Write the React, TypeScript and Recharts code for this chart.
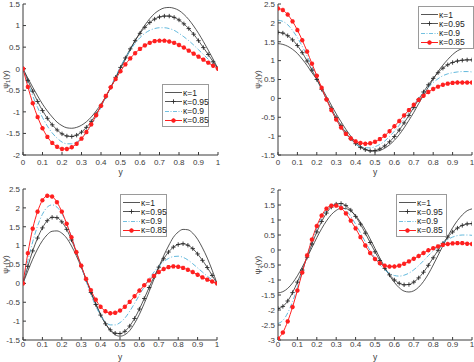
import { LineChart, Line, XAxis, YAxis, Legend } from 'recharts';

// grid points along y (0 .. 1, step 0.025)
const yPos = [
  0, 0.025, 0.05, 0.075, 0.1, 0.125, 0.15, 0.175, 0.2, 0.225, 0.25, 0.275, 0.3, 0.325, 0.35, 0.375, 0.4,
  0.425, 0.45, 0.475, 0.5, 0.525, 0.55, 0.575, 0.6, 0.625, 0.65, 0.675, 0.7, 0.725, 0.75, 0.775, 0.8,
  0.825, 0.85, 0.875, 0.9, 0.925, 0.95, 0.975, 1,
];
const xTicks = [0, 0.1, 0.2, 0.3, 0.4, 0.5, 0.6, 0.7, 0.8, 0.9, 1];
const kappaNames = ['κ=1', 'κ=0.95', 'κ=0.9', 'κ=0.85'];

// top left: psi_1(y)
const tlK100 = [0, -0.22, -0.43, -0.63, -0.82, -0.98, -1.12, -1.24, -1.32, -1.37, -1.38, -1.36, -1.31, -1.23, -1.12, -0.98, -0.82, -0.64, -0.44, -0.22, 0, 0.22, 0.44, 0.65, 0.84, 1.01, 1.16, 1.28, 1.36, 1.41, 1.42, 1.4, 1.35, 1.26, 1.14, 0.99, 0.82, 0.63, 0.43, 0.22, 0];
const tlK095 = [0, -0.27, -0.52, -0.76, -0.97, -1.15, -1.3, -1.42, -1.51, -1.56, -1.57, -1.54, -1.47, -1.36, -1.22, -1.05, -0.86, -0.65, -0.43, -0.2, 0.03, 0.25, 0.46, 0.65, 0.82, 0.96, 1.07, 1.15, 1.2, 1.22, 1.22, 1.19, 1.13, 1.04, 0.93, 0.8, 0.65, 0.49, 0.33, 0.16, 0];
const tlK090 = [0, -0.33, -0.63, -0.9, -1.13, -1.33, -1.49, -1.61, -1.7, -1.74, -1.74, -1.7, -1.61, -1.48, -1.32, -1.12, -0.9, -0.66, -0.42, -0.18, 0.05, 0.25, 0.43, 0.59, 0.72, 0.82, 0.89, 0.93, 0.95, 0.95, 0.93, 0.89, 0.82, 0.74, 0.65, 0.55, 0.44, 0.33, 0.22, 0.11, 0];
const tlK085 = [0, -0.42, -0.8, -1.12, -1.38, -1.58, -1.72, -1.81, -1.86, -1.86, -1.82, -1.74, -1.62, -1.47, -1.29, -1.08, -0.86, -0.63, -0.43, -0.24, -0.06, 0.1, 0.24, 0.36, 0.46, 0.54, 0.6, 0.64, 0.65, 0.65, 0.63, 0.6, 0.55, 0.49, 0.42, 0.35, 0.28, 0.21, 0.14, 0.07, 0];

// top right: psi_2(y)
const trK100 = [1.45, 1.43, 1.38, 1.3, 1.19, 1.04, 0.87, 0.68, 0.5, 0.28, 0.05, -0.18, -0.41, -0.62, -0.82, -1.0, -1.15, -1.26, -1.34, -1.39, -1.4, -1.38, -1.32, -1.23, -1.11, -0.96, -0.78, -0.58, -0.37, -0.14, 0.08, 0.3, 0.51, 0.71, 0.88, 1.03, 1.16, 1.26, 1.32, 1.36, 1.37];
const trK095 = [1.75, 1.73, 1.66, 1.55, 1.4, 1.21, 0.99, 0.75, 0.5, 0.24, -0.02, -0.27, -0.51, -0.72, -0.91, -1.07, -1.2, -1.3, -1.36, -1.39, -1.38, -1.34, -1.26, -1.15, -1.01, -0.84, -0.65, -0.45, -0.24, -0.03, 0.17, 0.36, 0.53, 0.68, 0.8, 0.89, 0.95, 0.99, 1.01, 1.02, 1.02];
const trK090 = [2.07, 2.04, 1.95, 1.8, 1.61, 1.38, 1.12, 0.84, 0.55, 0.26, -0.03, -0.3, -0.55, -0.77, -0.95, -1.1, -1.21, -1.28, -1.31, -1.31, -1.28, -1.22, -1.13, -1.01, -0.87, -0.71, -0.53, -0.35, -0.17, 0, 0.16, 0.3, 0.42, 0.52, 0.6, 0.65, 0.68, 0.7, 0.71, 0.71, 0.7];
const trK085 = [2.38, 2.34, 2.22, 2.04, 1.81, 1.54, 1.24, 0.92, 0.6, 0.28, -0.03, -0.31, -0.56, -0.77, -0.94, -1.06, -1.14, -1.18, -1.2, -1.19, -1.15, -1.08, -0.99, -0.87, -0.74, -0.6, -0.45, -0.31, -0.17, -0.04, 0.07, 0.17, 0.25, 0.31, 0.36, 0.39, 0.41, 0.42, 0.42, 0.42, 0.42];

// bottom left: psi_1(y)
const blK100 = [0, 0.33, 0.64, 0.91, 1.13, 1.29, 1.38, 1.39, 1.33, 1.2, 0.99, 0.73, 0.43, 0.11, -0.22, -0.53, -0.82, -1.06, -1.25, -1.36, -1.4, -1.36, -1.25, -1.06, -0.82, -0.53, -0.22, 0.11, 0.43, 0.73, 0.99, 1.22, 1.36, 1.43, 1.42, 1.33, 1.17, 0.94, 0.67, 0.35, 0];
const blK095 = [0, 0.45, 0.86, 1.2, 1.47, 1.66, 1.75, 1.74, 1.63, 1.43, 1.15, 0.82, 0.46, 0.1, -0.24, -0.56, -0.84, -1.07, -1.23, -1.32, -1.33, -1.27, -1.13, -0.93, -0.68, -0.4, -0.11, 0.17, 0.43, 0.65, 0.83, 0.96, 1.03, 1.05, 1.01, 0.92, 0.78, 0.61, 0.42, 0.21, 0];
const blK090 = [0, 0.6, 1.1, 1.52, 1.83, 2.02, 2.08, 2.02, 1.85, 1.58, 1.24, 0.85, 0.45, 0.06, -0.3, -0.6, -0.85, -1.02, -1.1, -1.1, -1.04, -0.92, -0.74, -0.53, -0.31, -0.09, 0.12, 0.3, 0.45, 0.57, 0.66, 0.71, 0.72, 0.69, 0.62, 0.52, 0.41, 0.3, 0.19, 0.09, 0];
const blK085 = [0, 0.8, 1.45, 1.9, 2.2, 2.32, 2.3, 2.15, 1.9, 1.58, 1.22, 0.83, 0.47, 0.12, -0.18, -0.43, -0.62, -0.74, -0.79, -0.78, -0.72, -0.62, -0.49, -0.34, -0.19, -0.05, 0.08, 0.2, 0.3, 0.38, 0.43, 0.45, 0.44, 0.41, 0.36, 0.3, 0.23, 0.16, 0.1, 0.05, 0];

// bottom right: psi_2(y)
const brK100 = [-1.43, -1.39, -1.28, -1.1, -0.86, -0.57, -0.25, 0.08, 0.41, 0.71, 0.97, 1.18, 1.32, 1.39, 1.38, 1.3, 1.15, 0.93, 0.67, 0.37, 0.05, -0.27, -0.57, -0.85, -1.08, -1.26, -1.37, -1.4, -1.36, -1.24, -1.05, -0.8, -0.5, -0.18, 0.14, 0.45, 0.74, 0.98, 1.17, 1.31, 1.37];
const brK095 = [-1.95, -1.88, -1.7, -1.42, -1.07, -0.67, -0.24, 0.2, 0.6, 0.95, 1.23, 1.43, 1.53, 1.55, 1.48, 1.33, 1.12, 0.86, 0.56, 0.25, -0.06, -0.35, -0.61, -0.83, -1.0, -1.11, -1.16, -1.15, -1.07, -0.93, -0.74, -0.51, -0.26, -0.01, 0.22, 0.43, 0.6, 0.73, 0.82, 0.87, 0.88];
const brK090 = [-2.45, -2.35, -2.1, -1.72, -1.25, -0.73, -0.2, 0.3, 0.73, 1.08, 1.33, 1.48, 1.52, 1.47, 1.33, 1.12, 0.86, 0.57, 0.27, -0.02, -0.27, -0.49, -0.66, -0.78, -0.85, -0.87, -0.84, -0.77, -0.66, -0.52, -0.36, -0.19, -0.03, 0.12, 0.25, 0.35, 0.43, 0.48, 0.5, 0.5, 0.49];
const brK085 = [-2.95, -2.75, -2.38, -1.9, -1.35, -0.75, -0.18, 0.35, 0.8, 1.15, 1.38, 1.48, 1.48, 1.4, 1.22, 0.98, 0.72, 0.43, 0.15, -0.1, -0.3, -0.44, -0.52, -0.55, -0.55, -0.52, -0.46, -0.38, -0.29, -0.2, -0.1, -0.01, 0.06, 0.12, 0.17, 0.2, 0.22, 0.23, 0.23, 0.21, 0.2];

const ticksA = [-2, -1.5, -1, -0.5, 0, 0.5, 1, 1.5];
const ticksB = [-1.5, -1, -0.5, 0, 0.5, 1, 1.5, 2, 2.5];
const ticksC = [-3, -2.5, -2, -1.5, -1, -0.5, 0, 0.5, 1, 1.5, 2];

const FONT = '"Liberation Sans", Arial, Helvetica, sans-serif';
const AXIS = '#3a3a3a';
const COLORS = ['#2b2b2b', '#2b2b2b', '#4fb0d8', '#ff1f1f'];

const buildRows = (s: number[][]) =>
  yPos.map((y, i) => ({ y, k100: s[0][i], k095: s[1][i], k090: s[2][i], k085: s[3][i] }));

function PlusDot(props: any) {
  const { cx, cy, index } = props;
  if (cx == null || cy == null) return <g key={index} />;
  return (
    <path key={index} d={`M${cx - 2.2},${cy}h4.4M${cx},${cy - 2.2}v4.4`} stroke={COLORS[1]} strokeWidth={0.9} fill="none" />
  );
}

function StarDot(props: any) {
  const { cx, cy, index } = props;
  if (cx == null || cy == null) return <g key={index} />;
  const r = 2.2;
  const d = r * 0.72;
  return (
    <path
      key={index}
      d={`M${cx - r},${cy}h${2 * r}M${cx},${cy - r}v${2 * r}M${cx - d},${cy - d}l${2 * d},${2 * d}M${cx - d},${cy + d}l${2 * d},${-2 * d}`}
      stroke={COLORS[3]}
      strokeWidth={1.3}
      fill="none"
    />
  );
}

function LegendBox({ width }: { width: number }) {
  return (
    <div
      style={{
        width,
        height: 43,
        border: '1px solid #9a9a9a',
        background: '#fff',
        boxSizing: 'border-box',
        position: 'relative',
        fontFamily: FONT,
        fontSize: 8.5,
        color: '#222',
      }}
    >
      {kappaNames.map((name, i) => (
        <div key={name} style={{ position: 'absolute', left: 2, top: 3 + i * 9.3, height: 9, display: 'flex', alignItems: 'center', whiteSpace: 'nowrap' }}>
          <svg width={17} height={9}>
            <line
              x1={0}
              x2={17}
              y1={4.5}
              y2={4.5}
              stroke={COLORS[i]}
              strokeWidth={i === 3 ? 1 : 0.8}
              strokeDasharray={i === 2 ? '4 1.5 1 1.5' : undefined}
            />
            {i === 1 && <PlusDot cx={8.5} cy={4.5} index={0} />}
            {i === 3 && <StarDot cx={8.5} cy={4.5} index={0} />}
          </svg>
          <span style={{ marginLeft: 1 }}>{name}</span>
        </div>
      ))}
    </div>
  );
}

type PanelProps = {
  left: number;
  top: number;
  series: number[][];
  yDomain: [number, number];
  yTicks: number[];
  sub: string;
  plotL: number;
  plotT: number;
  plotR: number;
  plotB: number;
  labelX: number;
  xTickMargin: number;
  xLabelOffset: number;
  legendX: number;
  legendY: number;
  legendW: number;
};

function Panel(p: PanelProps) {
  const W = 237;
  const H = 181;
  const rows = buildRows(p.series);
  const tickStyle = { fill: AXIS, fontSize: 8, fontFamily: FONT };
  const renderYLabel = (props: any) => {
    const vb = props.viewBox || { y: p.plotT, height: p.plotB - p.plotT };
    const cy = vb.y + vb.height / 2;
    return (
      <text
        x={p.labelX}
        y={cy}
        transform={`rotate(-90 ${p.labelX} ${cy})`}
        textAnchor="middle"
        fontSize={8}
        fill={AXIS}
        fontFamily={FONT}
      >
        ψ<tspan fontSize={6} dy={2}>{p.sub}</tspan>
        <tspan dy={-2}>(y)</tspan>
      </text>
    );
  };
  return (
    <div style={{ position: 'absolute', left: p.left, top: p.top, width: W, height: H }}>
      <LineChart
        width={W}
        height={H}
        data={rows}
        margin={{ top: p.plotT, right: W - p.plotR, left: 0, bottom: 0 }}
        style={{ fontFamily: FONT }}
      >
        <XAxis
          dataKey="y"
          type="number"
          domain={[0, 1]}
          ticks={xTicks}
          interval={0}
          allowDataOverflow
          height={H - p.plotB}
          tickSize={-3}
          tickMargin={p.xTickMargin}
          tick={tickStyle}
          tickFormatter={(v: number) => String(v)}
          stroke={AXIS}
          label={{ value: 'y', position: 'insideBottom', offset: p.xLabelOffset, fill: AXIS, fontSize: 8.5, fontFamily: FONT }}
        />
        <XAxis
          xAxisId="top"
          dataKey="y"
          type="number"
          orientation="top"
          domain={[0, 1]}
          ticks={xTicks}
          interval={0}
          allowDataOverflow
          height={0}
          tickSize={-3}
          tick={false}
          stroke={AXIS}
        />
        <YAxis
          type="number"
          domain={p.yDomain}
          ticks={p.yTicks}
          interval={0}
          allowDataOverflow
          width={p.plotL}
          tickSize={-3}
          tickMargin={6}
          tick={tickStyle}
          stroke={AXIS}
          label={{ content: renderYLabel }}
        />
        <YAxis
          yAxisId="right"
          type="number"
          orientation="right"
          domain={p.yDomain}
          ticks={p.yTicks}
          interval={0}
          allowDataOverflow
          width={0}
          tickSize={-3}
          tick={false}
          stroke={AXIS}
        />
        <Legend
          layout="vertical"
          align="center"
          verticalAlign="middle"
          wrapperStyle={{ left: p.legendX, top: p.legendY, width: p.legendW, height: 43 }}
          content={() => <LegendBox width={p.legendW} />}
        />
        <Line dataKey="k100" name={kappaNames[0]} type="monotone" stroke={COLORS[0]} strokeWidth={0.8} dot={false} isAnimationActive={false} />
        <Line dataKey="k095" name={kappaNames[1]} type="monotone" stroke={COLORS[1]} strokeWidth={0.8} dot={PlusDot} isAnimationActive={false} />
        <Line dataKey="k090" name={kappaNames[2]} type="monotone" stroke={COLORS[2]} strokeWidth={0.9} strokeDasharray="5 2 1 2" dot={false} isAnimationActive={false} />
        <Line dataKey="k085" name={kappaNames[3]} type="monotone" stroke={COLORS[3]} strokeWidth={1} dot={StarDot} isAnimationActive={false} />
      </LineChart>
    </div>
  );
}

export default function App() {
  return (
    <div style={{ position: 'absolute', left: 0, top: 0, width: 474, height: 362, background: '#fff', overflow: 'hidden' }}>
      <Panel
        left={0}
        top={0}
        series={[tlK100, tlK095, tlK090, tlK085]}
        yDomain={[-2, 1.5]}
        yTicks={ticksA}
        sub="1"
        plotL={23}
        plotT={4}
        plotR={218}
        plotB={155}
        labelX={8}
        xTickMargin={7}
        xLabelOffset={6}
        legendX={162}
        legendY={84}
        legendW={47}
      />
      <Panel
        left={237}
        top={0}
        series={[trK100, trK095, trK090, trK085]}
        yDomain={[-1.5, 2.5]}
        yTicks={ticksB}
        sub="2"
        plotL={41}
        plotT={4}
        plotR={235}
        plotB={155}
        labelX={23}
        xTickMargin={7}
        xLabelOffset={6}
        legendX={181}
        legendY={6}
        legendW={56}
      />
      <Panel
        left={0}
        top={181}
        series={[blK100, blK095, blK090, blK085]}
        yDomain={[-1.5, 2.5]}
        yTicks={ticksB}
        sub="1"
        plotL={23}
        plotT={8}
        plotR={217}
        plotB={159}
        labelX={8}
        xTickMargin={4}
        xLabelOffset={2}
        legendX={120}
        legendY={13}
        legendW={47}
      />
      <Panel
        left={237}
        top={181}
        series={[brK100, brK095, brK090, brK085]}
        yDomain={[-3, 2]}
        yTicks={ticksC}
        sub="2"
        plotL={41}
        plotT={9}
        plotR={235}
        plotB={159}
        labelX={23}
        xTickMargin={4}
        xLabelOffset={2}
        legendX={159}
        legendY={13}
        legendW={51}
      />
    </div>
  );
}
